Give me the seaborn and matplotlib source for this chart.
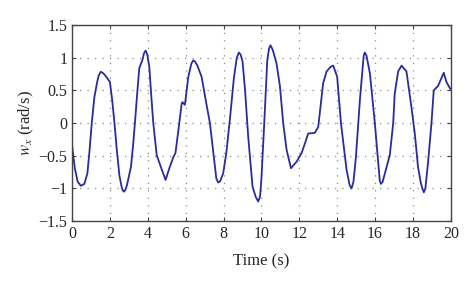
import numpy as np
import pandas as pd
import matplotlib
matplotlib.use("Agg")
import matplotlib.pyplot as plt
import seaborn as sns

# angular rate w_x
time_s = [0.0, 0.15, 0.3, 0.47, 0.65, 0.81, 0.93, 1.04, 1.18, 1.32, 1.4, 1.51, 1.62, 1.75, 2.0, 2.12, 2.24,
          2.36, 2.5, 2.62, 2.68, 2.74, 2.82, 2.9, 3.11, 3.22, 3.32, 3.44, 3.55, 3.72, 3.8, 3.89, 3.97, 4.08,
          4.2, 4.29, 4.47, 4.7, 4.94, 5.15, 5.35, 5.46, 5.62, 5.79, 5.83, 5.96, 6.14, 6.3, 6.4, 6.5, 6.62,
          6.84, 7.06, 7.28, 7.5, 7.62, 7.72, 7.82, 7.98, 8.15, 8.35, 8.55, 8.7, 8.81, 8.9, 9.0, 9.13, 9.3,
          9.53, 9.7, 9.83, 9.93, 10.0, 10.15, 10.31, 10.4, 10.48, 10.6, 10.8, 10.98, 11.15, 11.33, 11.56,
          11.86, 12.12, 12.3, 12.47, 12.82, 13.0, 13.26, 13.44, 13.65, 13.79, 14.0, 14.2, 14.5, 14.66, 14.76,
          14.86, 14.99, 15.2, 15.33, 15.4, 15.46, 15.55, 15.73, 15.99, 16.17, 16.25, 16.31, 16.4, 16.52,
          16.78, 16.96, 17.04, 17.22, 17.4, 17.66, 17.92, 18.1, 18.27, 18.42, 18.5, 18.58, 18.66, 18.81,
          18.98, 19.1, 19.33, 19.63, 19.77, 19.98]
w_x = [-0.34, -0.7, -0.9, -0.96, -0.93, -0.77, -0.4, 0.0, 0.4, 0.62, 0.72, 0.785, 0.77, 0.73, 0.63, 0.35, 0.0,
       -0.4, -0.8, -0.98, -1.03, -1.05, -1.02, -0.95, -0.67, -0.35, 0.0, 0.45, 0.84, 0.97, 1.07, 1.11, 1.05, 0.86,
       0.35, 0.0, -0.49, -0.68, -0.87, -0.68, -0.52, -0.46, -0.1, 0.3, 0.32, 0.28, 0.71, 0.91, 0.96, 0.94, 0.88,
       0.71, 0.35, 0.0, -0.55, -0.85, -0.91, -0.89, -0.77, -0.45, 0.1, 0.7, 1.0, 1.08, 1.05, 0.95, 0.53, -0.2,
       -0.97, -1.13, -1.2, -1.12, -0.85, 0.0, 0.96, 1.14, 1.19, 1.12, 0.91, 0.56, 0.0, -0.41, -0.69,
       -0.59, -0.46, -0.31, -0.16, -0.15, -0.06, 0.61, 0.79, 0.86, 0.88, 0.71, 0.0, -0.72, -0.95, -1.0,
       -0.9, -0.52, 0.35, 0.8, 1.03, 1.08, 1.03, 0.76, 0.0, -0.62, -0.88, -0.93, -0.9, -0.77,
       -0.49, 0.0, 0.45, 0.79, 0.88, 0.79, 0.25, -0.16, -0.67, -0.92, -1.0, -1.06, -1.0, -0.57,
       0.0, 0.5, 0.57, 0.77, 0.63, 0.52]

df = pd.DataFrame({"t": time_s, "w": w_x})

sns.set_style("ticks")
plt.rcParams["font.family"] = ["Liberation Serif", "DejaVu Serif"]
plt.rcParams["mathtext.fontset"] = "stix"

fig = plt.figure(figsize=(4.74, 2.82), dpi=100)
ax = fig.add_axes([0.152, 0.216, 0.799, 0.695])

sns.lineplot(data=df, x="t", y="w", color="#2b2b9c", linewidth=1.3, ax=ax)

ax.set_xlim(0, 20)
ax.set_ylim(-1.5, 1.5)
ax.set_xticks(np.arange(0, 21, 2))
ax.set_yticks(np.arange(-1.5, 1.51, 0.5))
ax.set_yticklabels(["\u22121.5", "\u22121", "\u22120.5", "0", "0.5", "1", "1.5"])
ax.grid(True, linestyle=(0, (1, 5)), color="#888888", linewidth=0.9)
ax.tick_params(direction="in", top=True, right=True, labelsize=11.5, length=3, color="#444444")
for s in ax.spines.values():
    s.set_color("#444444")
    s.set_linewidth(1.0)

ax.set_xlabel("Time (s)", fontsize=12, labelpad=8)
ax.set_ylabel("$w_x$ (rad/s)", fontsize=12, labelpad=2)

fig.savefig("out.png", dpi=100)
